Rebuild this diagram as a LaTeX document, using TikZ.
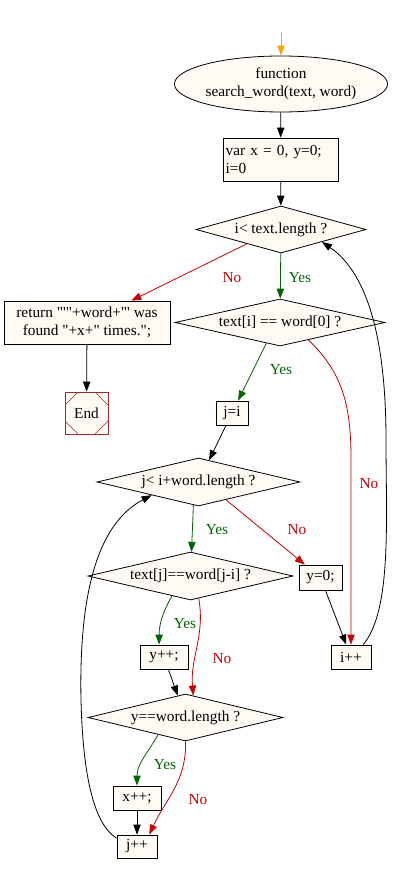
\documentclass[tikz,border=0pt]{standalone}
\usepackage{fontspec}
\setmainfont{Liberation Serif}[Ligatures=TeXOff]
\usetikzlibrary{calc,shapes.geometric,arrows.meta}

\definecolor{nodefill}{RGB}{255,250,243}
\definecolor{nored}{RGB}{200,0,0}
\definecolor{yesgreen}{RGB}{0,100,0}
\definecolor{endbrown}{RGB}{165,42,42}
\definecolor{startorange}{RGB}{255,165,0}

\tikzset{
	flow/.style={line width=0.6pt,-{Triangle[length=7.5pt,width=5.5pt]}},
	yes/.style={flow,draw=yesgreen},
	no/.style={flow,draw=nored},
	ylab/.style={text=yesgreen,inner sep=1pt},
	nlab/.style={text=nored,inner sep=1pt},
	box/.style={draw,fill=nodefill,line width=0.6pt,inner sep=2pt,align=center},
	test/.style={draw,diamond,aspect=4,fill=nodefill,line width=0.6pt,inner sep=0pt},
}

\begin{document}
\begin{tikzpicture}[x=0.75pt,y=-0.75pt,font=\fontsize{11.5}{13.5}\selectfont]
		\useasboundingbox (0,0) rectangle (401,873);
		\coordinate (start) at (281,33);
		\node[draw,ellipse,fill=nodefill,line width=0.6pt,inner sep=0pt,minimum width=137.25pt,minimum height=42pt,align=center](0)at(281,84) {function\\search\_word(text, word)};
		\node[box,minimum width=86.25pt,minimum height=32.25pt,text width=82.25pt,align=left](1)at(280.5,159.5) {var x = 0, y=0;\\i=0};
		\node[test,minimum width=127.5pt,minimum height=35.25pt](2)at(281,229.5) {i< text.length ?};
		\node[box,minimum width=124.5pt,minimum height=32.25pt](3)at(87,322.5) {return "'"+word+"' was\\found "+x+" times.";};
		\node[test,minimum width=157.5pt,minimum height=35.25pt](4)at(280,322.5) {text[i] == word[0] ?};
		\node[draw=endbrown,fill=nodefill,line width=0.6pt,minimum width=32.25pt,minimum height=31.5pt,
			path picture={
				\draw[endbrown,line width=0.5pt] ([yshift=-9.75pt]path picture bounding box.north west) -- ([xshift=9.75pt]path picture bounding box.north west);
				\draw[endbrown,line width=0.5pt] ([yshift=-9.75pt]path picture bounding box.north east) -- ([xshift=-9.75pt]path picture bounding box.north east);
				\draw[endbrown,line width=0.5pt] ([yshift=9.75pt]path picture bounding box.south west) -- ([xshift=9.75pt]path picture bounding box.south west);
				\draw[endbrown,line width=0.5pt] ([yshift=9.75pt]path picture bounding box.south east) -- ([xshift=-9.75pt]path picture bounding box.south east);
			}](5)at(86.5,413) {End};
		\node[box,minimum width=24pt,minimum height=18pt](6)at(232,413) {j=i};
		\node[test,minimum width=152.25pt,minimum height=36pt](7)at(198.5,482) {j< i+word.length ?};
		\node[box,minimum width=32.25pt,minimum height=18.75pt](8)at(320.5,577.5) {y=0;};
		\node[test,minimum width=153.75pt,minimum height=36pt](9)at(190.5,576) {text[j]==word[j-i] ?};
		\node[box,minimum width=36pt,minimum height=18pt](10)at(164,657) {y++;};
		\node[box,minimum width=30pt,minimum height=18pt](11)at(351,657) {i++};
		\node[test,minimum width=146.25pt,minimum height=35.25pt](12)at(185.5,717.5) {y==word.length ?};
		\node[box,minimum width=36pt,minimum height=18pt](13)at(137,798) {x++;};
		\node[box,minimum width=30pt,minimum height=17.25pt](14)at(137,846.5) {j++};
		
		\draw[flow,draw=startorange](start) -- (0);
		\draw[flow](0) -- (1);
		\draw[flow](1) -- (2);
		\draw[no]($(2.south)!0.4!(2.west)$) -- (3) node[nlab] at (232,278) {No};
		\draw[yes](2) -- (4) node[ylab] at (300,278) {Yes};
		\draw[flow](3) -- (5);
		\draw[yes]($(4.south)!0.13!(4.west)$) -- (6) node[ylab] at (281,370) {Yes};
		\draw[no]($(4.south)!0.27!(4.east)$) .. controls (345,375) and (351,410) .. (351,460) -- (11) node[nlab] at (369,484) {No};
		\draw[flow](6) -- (7);
		\draw[yes]($(7.south)!0.05!(7.west)$) -- (9) node[ylab] at (217,530) {Yes};
		\draw[no]($(7.south)!0.27!(7.east)$) -- (8) node[nlab] at (297,530) {No};
		\draw[flow](8) -- (11);
		\draw[flow]($(11.north)!0.6!(11.north east)$) .. controls (392,610) and (386,520) .. (386,440) .. controls (386,320) and (360,268) .. ($(2.south)!0.48!(2.east)$);
		\draw[yes]($(9.south)!0.18!(9.west)$) to[out=-120,in=90] ($(10.north west)!0.4!(10.north east)$) node[ylab] at (185,624) {Yes};
		\draw[no]($(9.south)!0.08!(9.east)$) to[out=-80,in=95] ($(12.north)!0.08!(12.east)$) node[nlab] at (222,659) {No};
		\draw[flow](10) -- (12);
		\draw[yes]($(12.south)!0.28!(12.west)$) to[out=-120,in=90] (13) node[ylab] at (165,765) {Yes};
		\draw[no](12.south) to[out=-88,in=65] ($(14.north)!0.6!(14.north east)$) node[nlab] at (198,800) {No};
		\draw[flow](13) -- (14);
		\draw[flow]($(14.north west)!0.15!(14.south west)$) .. controls (95,825) and (83,780) .. (81,700) .. controls (79,600) and (95,525) .. ($(7.south)!0.46!(7.west)$);
	\end{tikzpicture}
\end{document}
